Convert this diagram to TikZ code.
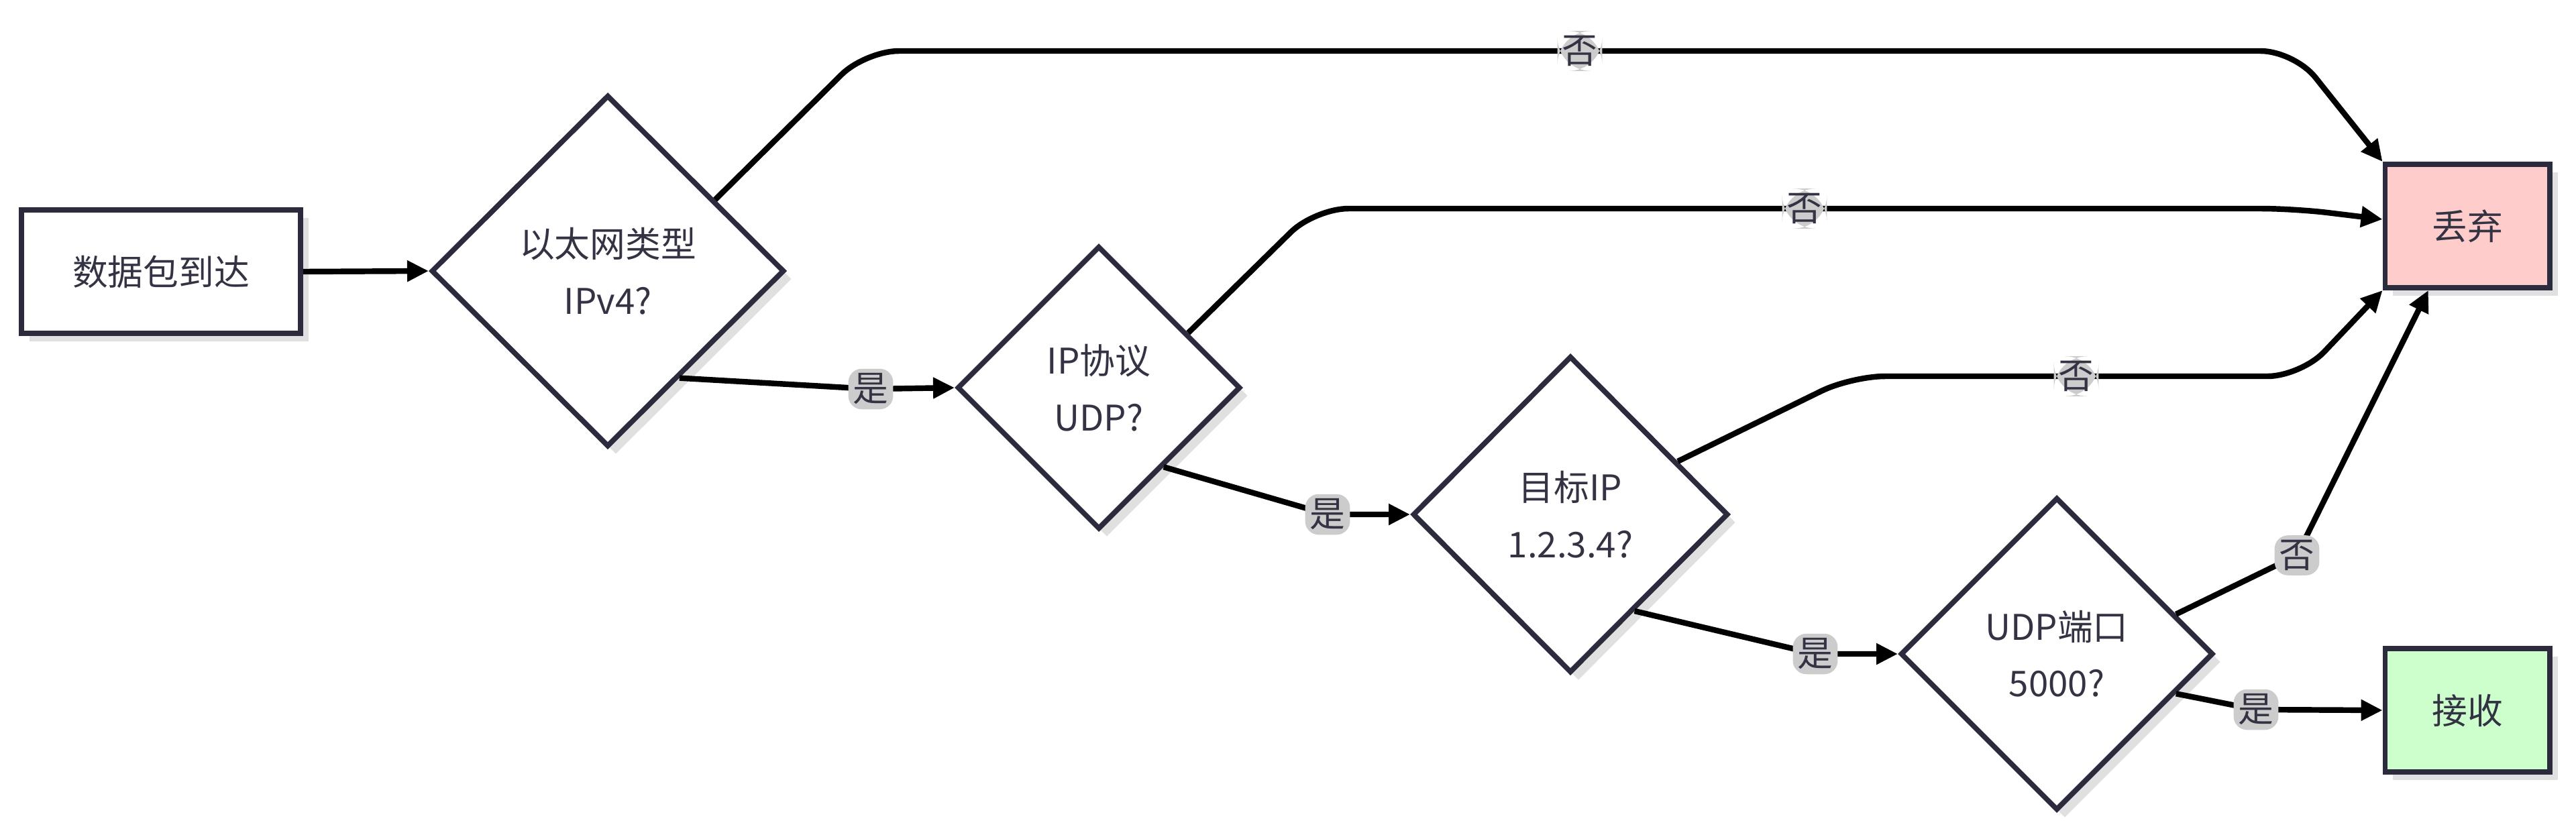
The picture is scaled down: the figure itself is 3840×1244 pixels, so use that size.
\documentclass[tikz,border=0pt]{standalone}
\usepackage{fontspec}
\setmainfont{Noto Sans CJK SC}
\usetikzlibrary{shapes.geometric,arrows.meta,calc,shadows}
\definecolor{bd}{HTML}{2B2B3D}
\definecolor{txt}{HTML}{333344}
\begin{document}
\begin{tikzpicture}[x=0.01cm,y=-0.01cm,
  font=\fontsize{15}{18}\selectfont, text=txt,
  shd/.style={drop shadow={opacity=.12,shadow xshift=0.12cm,shadow yshift=-0.12cm,fill=black}},
  box/.style={draw=bd,line width=2.2pt,fill=white,minimum width=4.16cm,minimum height=1.84cm,inner sep=0pt,shd},
  dia/.style={diamond,draw=bd,line width=2.2pt,fill=white,inner sep=0pt,align=center,shd},
  edge/.style={line width=2.4pt,-{Triangle[length=0.32cm,width=0.3cm]},rounded corners=0.5cm},
  lbl/.style={fill=black!20,inner sep=2pt,text=txt}]
\useasboundingbox (0,0) rectangle (3840,1244);
\node[box] (s) at (240,405) {数据包到达};
\node[dia,minimum width=5.26cm,minimum height=5.24cm] (d1) at (906,404) {以太网类型\\[6pt]IPv4?};
\node[dia,minimum width=4.22cm,minimum height=4.22cm] (d2) at (1638,578) {IP协议\\[6pt]UDP?};
\node[dia,minimum width=4.70cm,minimum height=4.72cm] (d3) at (2341,767) {目标IP\\[6pt]1.2.3.4?};
\node[dia,minimum width=4.66cm,minimum height=4.66cm] (d4) at (3066,975) {UDP端口\\[6pt]5000?};
\node[box,fill=red!20,minimum width=2.45cm] (x) at (3678,337) {丢弃};
\node[box,fill=green!20,minimum width=2.45cm] (a) at (3678,1059) {接收};

\draw[edge] (s.east) -- (d1.west);
% D1
\draw[edge] ($(d1.north)!0.6!(d1.east)$) -- (1290,76) -- node[lbl]{否} (3420,76) -- (x.north west);
\draw[edge,rounded corners=0.2cm] ($(d1.east)!0.6!(d1.south)$) -- (1298,580) node[lbl]{是} -- (d2.west);
% D2
\draw[edge] ($(d2.north)!0.62!(d2.east)$) -- (1960,311) -- node[lbl]{否} (3420,311) -- ($(x.west)+(0,-10)$);
\draw[edge,rounded corners=0.2cm] ($(d2.east)!0.55!(d2.south)$) -- (1979,767) node[lbl]{是} -- (d3.west);
% D3
\draw[edge] ($(d3.north)!0.67!(d3.east)$) -- (2760,561) -- node[lbl]{否} (3430,561) -- (x.south west);
\draw[edge,rounded corners=0.2cm] ($(d3.east)!0.6!(d3.south)$) -- (2706,975) node[lbl]{是} -- (d4.west);
% D4
\draw[edge,rounded corners=0.2cm] ($(d4.north)!0.75!(d4.east)$) -- (3424,828) node[lbl]{否} -- ($(x.south west)!0.27!(x.south east)$);
\draw[edge,rounded corners=0.2cm] ($(d4.east)!0.25!(d4.south)$) -- (3363,1058) node[lbl]{是} -- (a.west);
\end{tikzpicture}
\end{document}
